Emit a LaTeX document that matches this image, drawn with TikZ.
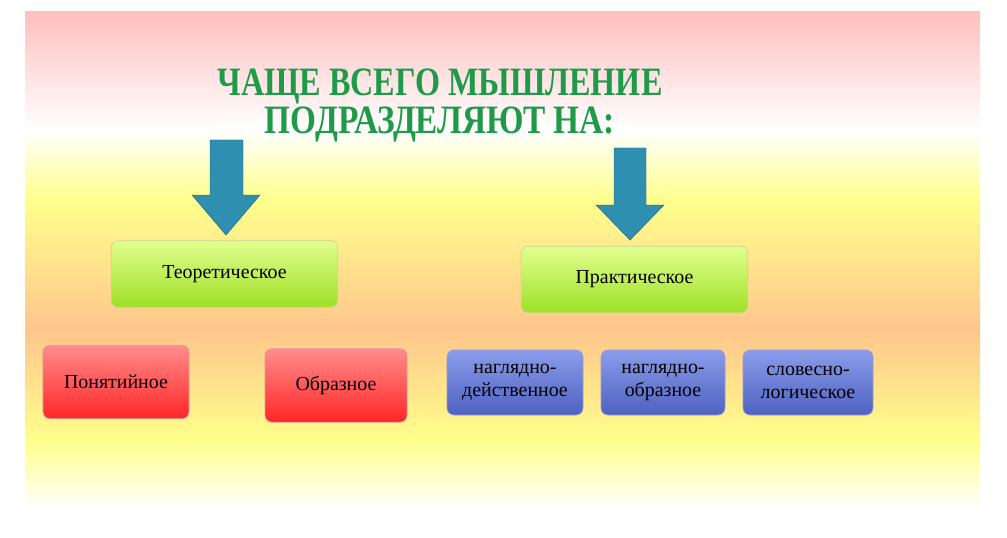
\documentclass[tikz,border=0pt]{standalone}
\usepackage{fontspec}
\usepackage{graphicx}
\setmainfont{Liberation Serif}
\definecolor{arrowteal}{HTML}{2E8FB0}
\definecolor{titlegreen}{HTML}{1E9A4A}
\definecolor{bluetop}{HTML}{8A9CEA}
\definecolor{bluebot}{HTML}{4E62C0}
\definecolor{greentop}{HTML}{E2FF90}
\definecolor{greenbot}{HTML}{9EE026}
\tikzset{
  box/.style={rounded corners=6pt, draw=#1!60!black!40, line width=0.6pt, align=center,
              font=\fontsize{17}{20}\selectfont},
  greenbox/.style={box=lime, top color=greentop, bottom color=greenbot,
              minimum width=6.8cm, minimum height=2cm},
  redbox/.style={box=red, top color=red!45, bottom color=red!85, minimum height=2.2cm},
  bluebox/.style={box=blue, top color=bluetop, bottom color=bluebot,
              minimum height=1.95cm},
  downarrow/.style={fill=arrowteal, draw=arrowteal!70!black}
}
\begin{document}
\begin{tikzpicture}[x=0.03cm,y=-0.03cm]
  \useasboundingbox (0,0) rectangle (1007,538);
  \fill[white] (0,0) rectangle (1007,538);
  % Hintergrund
  \shade[top color=red!25, bottom color=white] (25,12) rectangle (980,130);
  \shade[top color=white, bottom color=yellow!45] (25,130) rectangle (980,200);
  \shade[top color=yellow!45, bottom color=orange!45] (25,200) rectangle (980,330);
  \shade[top color=orange!45, bottom color=yellow!45] (25,330) rectangle (980,440);
  \shade[top color=yellow!45, bottom color=white] (25,440) rectangle (980,510);
  % Ueberschrift
  \node[text=titlegreen] (title1) at (440,86)
    {\resizebox{13.35cm}{0.8cm}{\bfseries ЧАЩЕ ВСЕГО МЫШЛЕНИЕ}};
  \node[text=titlegreen] (title2) at (440,124)
    {\resizebox{10.5cm}{0.8cm}{\bfseries ПОДРАЗДЕЛЯЮТ НА:}};
  % Pfeile
  \draw[downarrow] (210,140) -- (243,140) -- (243,195) -- (260,195) -- (226,235)
    -- (192,195) -- (210,195) -- cycle;
  \draw[downarrow] (614,148) -- (646,148) -- (646,205) -- (664,205) -- (630,240)
    -- (596,205) -- (614,205) -- cycle;
  % Kaesten
  \node[greenbox] (theor) at (224.5,274) {Теоретическое};
  \node[greenbox] (prakt) at (634.5,279.5) {Практическое};
  \node[redbox, minimum width=4.38cm] (ponyat) at (116,382) {Понятийное};
  \node[redbox, minimum width=4.26cm] (obraz) at (336,385.5) {Образное};
  \node[bluebox, minimum width=4.08cm] (naglD) at (515,382.5) {наглядно-\\действенное};
  \node[bluebox, minimum width=3.72cm] (naglO) at (663,382.5) {наглядно-\\образное};
  \node[bluebox, minimum width=3.9cm] (slovL) at (808,382.5) {словесно-\\логическое};
\end{tikzpicture}
\end{document}
